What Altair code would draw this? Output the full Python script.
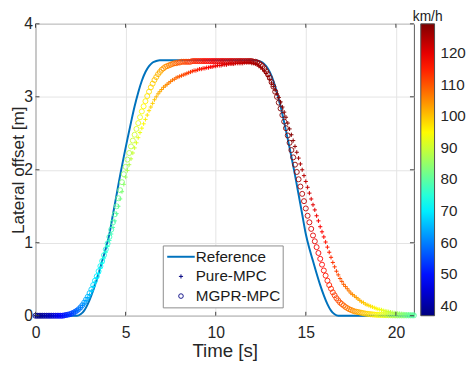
import altair as alt
import pandas as pd

FONT = "Liberation Sans"
TIME_STEP = 0.1

PURE_MPC = [
    0, 0, 0, 0, 0, 0, 0, 0, 0, 0,
    0, 0, 0, 0, 0, 0, 0.005, 0.01, 0.015, 0.02,
    0.03, 0.04, 0.055, 0.07, 0.09, 0.11, 0.14, 0.17, 0.21, 0.25,
    0.29, 0.34, 0.40, 0.46, 0.52, 0.58, 0.65, 0.72, 0.79, 0.87,
    0.95, 1.03, 1.12, 1.21, 1.30, 1.40, 1.50, 1.60, 1.70, 1.80,
    1.90, 1.99, 2.07, 2.15, 2.23, 2.30, 2.37, 2.44, 2.51, 2.57,
    2.63, 2.69, 2.75, 2.81, 2.86, 2.91, 2.96, 3.00, 3.04, 3.07,
    3.10, 3.13, 3.15, 3.17, 3.19, 3.21, 3.23, 3.24, 3.26, 3.27,
    3.28, 3.29, 3.30, 3.31, 3.32, 3.33, 3.34, 3.35, 3.36, 3.36,
    3.37, 3.38, 3.38, 3.39, 3.39, 3.40, 3.40, 3.41, 3.41, 3.42,
    3.42, 3.43, 3.43, 3.43, 3.44, 3.44, 3.44, 3.45, 3.45, 3.45,
    3.45, 3.46, 3.46, 3.46, 3.46, 3.46, 3.47, 3.47, 3.47, 3.47,
    3.46, 3.46, 3.45, 3.44, 3.42, 3.40, 3.38, 3.35, 3.32, 3.28,
    3.24, 3.19, 3.14, 3.09, 3.04, 2.99, 2.93, 2.86, 2.79, 2.72,
    2.64, 2.56, 2.48, 2.40, 2.32, 2.24, 2.16, 2.08, 2.00, 1.92,
    1.84, 1.76, 1.68, 1.60, 1.52, 1.45, 1.37, 1.30, 1.22, 1.15,
    1.08, 1.01, 0.94, 0.87, 0.80, 0.73, 0.67, 0.61, 0.56, 0.51,
    0.47, 0.43, 0.40, 0.37, 0.34, 0.31, 0.29, 0.27, 0.25, 0.23,
    0.21, 0.19, 0.18, 0.16, 0.15, 0.14, 0.13, 0.12, 0.11, 0.10,
    0.09, 0.085, 0.08, 0.07, 0.065, 0.06, 0.055, 0.05, 0.045, 0.04,
    0.037, 0.034, 0.03, 0.028, 0.025, 0.023, 0.02, 0.018, 0.016, 0.015,
    0.013,
]

MGPR_MPC = [
    0, 0, 0, 0, 0, 0, 0, 0, 0, 0,
    0, 0, 0, 0, 0, 0, 0.005, 0.01, 0.015, 0.02,
    0.03, 0.04, 0.055, 0.07, 0.09, 0.115, 0.145, 0.18, 0.22, 0.26,
    0.31, 0.36, 0.42, 0.48, 0.54, 0.61, 0.68, 0.75, 0.83, 0.91,
    0.99, 1.08, 1.18, 1.28, 1.39, 1.50, 1.61, 1.72, 1.83, 1.94,
    2.04, 2.14, 2.23, 2.32, 2.40, 2.48, 2.56, 2.64, 2.72, 2.80,
    2.87, 2.94, 3.01, 3.07, 3.13, 3.18, 3.23, 3.27, 3.31, 3.34,
    3.37, 3.39, 3.41, 3.42, 3.43, 3.44, 3.45, 3.46, 3.46, 3.47,
    3.47, 3.48, 3.48, 3.48, 3.48, 3.48, 3.48, 3.49, 3.49, 3.49,
    3.49, 3.49, 3.49, 3.49, 3.49, 3.49, 3.49, 3.49, 3.49, 3.49,
    3.49, 3.49, 3.49, 3.49, 3.49, 3.49, 3.49, 3.49, 3.49, 3.49,
    3.49, 3.49, 3.49, 3.49, 3.49, 3.49, 3.49, 3.49, 3.49, 3.49,
    3.49, 3.48, 3.48, 3.47, 3.46, 3.44, 3.42, 3.39, 3.35, 3.31,
    3.26, 3.20, 3.14, 3.07, 3.00, 2.92, 2.84, 2.75, 2.66, 2.57,
    2.47, 2.37, 2.27, 2.17, 2.07, 1.97, 1.87, 1.77, 1.67, 1.57,
    1.47, 1.37, 1.28, 1.19, 1.10, 1.02, 0.94, 0.86, 0.78, 0.70,
    0.62, 0.55, 0.48, 0.42, 0.37, 0.32, 0.28, 0.24, 0.21, 0.18,
    0.16, 0.14, 0.12, 0.105, 0.09, 0.08, 0.07, 0.06, 0.055, 0.05,
    0.045, 0.04, 0.035, 0.03, 0.027, 0.024, 0.021, 0.018, 0.016, 0.014,
    0.012, 0.011, 0.01, 0.009, 0.008, 0.008, 0.007, 0.007, 0.006, 0.006,
    0.005, 0.005, 0.005, 0.005, 0.005, 0.005, 0.005, 0.005, 0.005, 0.005,
    0.005,
]

SPEED_KMH = [
    37, 37.5, 38, 38.5, 39.5, 40, 40.5, 41.5, 42, 43,
    44, 45, 46, 47, 48, 49, 50, 51, 52, 53,
    54, 55, 56.5, 57.5, 59, 60, 61, 62.5, 63.5, 65,
    66, 67, 68, 69, 70, 71, 72, 73, 74, 75,
    76, 77, 78, 79, 80, 81, 82, 83, 84, 85,
    86, 87, 88, 89, 90, 90.5, 91.5, 92.5, 93, 94,
    95, 96, 97, 97.5, 98.5, 99, 100, 101, 101.5, 102,
    103, 104, 104.5, 105, 106, 106.5, 107, 108, 108.5, 109,
    110, 110.5, 111, 111.5, 112, 112.5, 113, 113.5, 114, 114.5,
    115, 115.5, 116, 116, 116.5, 117, 117.5, 118, 118, 118.5,
    119, 119.5, 119.5, 120, 120.5, 120.5, 121, 121, 121.5, 121.5,
    122, 122.5, 122.5, 123, 123, 123.5, 123.5, 124, 124, 124.5,
    125, 125.5, 125.5, 126, 126.5, 126.5, 127, 127, 127.5, 127.5,
    128, 128, 128.5, 128.5, 128.5, 129, 129, 129, 129, 129,
    129, 129, 128.5, 128, 127.5, 127, 126, 125.5, 125, 124,
    123, 122.5, 122, 121, 120.5, 120, 119, 118.5, 118, 117.5,
    117, 116, 115.5, 115, 114, 113, 112.5, 112, 111, 110.5,
    110, 109, 108, 107.5, 106.5, 106, 105, 104, 103.5, 102.5,
    102, 101, 100, 99.5, 99, 98, 97.5, 97, 96, 95.5,
    95, 94, 93, 92.5, 91.5, 91, 90, 89, 88.5, 87.5,
    87, 86, 85.5, 84.5, 84, 83, 82.5, 81.5, 81, 80.5,
    80,
]

REF_T = [0, 2.3, 2.5, 2.7, 2.9, 3.1, 3.3, 3.5, 3.7, 3.9, 4.1, 4.3, 4.5, 4.7,
         4.9, 5.1, 5.3, 5.5, 5.7, 5.9, 6.1, 6.3, 6.5, 6.7, 6.9,
         12.2, 12.4, 12.6, 12.8, 13.0, 13.2, 13.4, 13.6, 13.8, 14.0, 14.2,
         14.4, 14.6, 14.8, 15.0, 15.2, 15.4, 15.6, 15.8, 16.0, 16.2, 16.4,
         16.6, 16.8, 21]
REF_Y = [0, 0, 0.02, 0.07, 0.16, 0.28, 0.42, 0.58, 0.75, 0.92, 1.12, 1.39,
         1.66, 1.93, 2.18, 2.42, 2.65, 2.87, 3.06, 3.22, 3.34, 3.42, 3.47,
         3.49, 3.50,
         3.50, 3.49, 3.47, 3.42, 3.34, 3.22, 3.06, 2.87, 2.65, 2.42, 2.18,
         1.93, 1.66, 1.39, 1.12, 0.92, 0.75, 0.58, 0.42, 0.28, 0.16, 0.07,
         0.02, 0.00, 0]

X_TICKS = [0, 5, 10, 15, 20]
Y_TICKS = [0, 1, 2, 3, 4]
CBAR_TICKS = [40, 50, 60, 70, 80, 90, 100, 110, 120]
CBAR_STOPS = [36.9, 48.45, 60.0, 71.55, 83.1, 94.65, 106.2, 117.75, 129.3]
JET = ["#00007F", "#0000FF", "#007FFF", "#00FFFF", "#7FFF7F",
       "#FFFF00", "#FF7F00", "#FF0000", "#7F0000"]
LEGEND_LABELS = ["Reference", "Pure-MPC", "MGPR-MPC"]

PLUS = "M-1,0L1,0M0,-1L0,1"
W, H = 385, 297

n = len(SPEED_KMH)
assert len(PURE_MPC) == n and len(MGPR_MPC) == n
times = [round(i * TIME_STEP, 1) for i in range(n)]
df = pd.DataFrame({"t": times, "pure": PURE_MPC, "mgpr": MGPR_MPC,
                   "speed": SPEED_KMH})
ref_df = pd.DataFrame({"t": REF_T, "y": REF_Y})
xt_df = pd.DataFrame({"v": X_TICKS})
yt_df = pd.DataFrame({"v": Y_TICKS})
leg_df = pd.DataFrame({"label": LEGEND_LABELS})

xscale = alt.Scale(domain=[0, 21], nice=False, zero=False)
yscale = alt.Scale(domain=[0, 4], nice=False, zero=False)
xaxis = alt.Axis(values=X_TICKS, labelFlush=False, ticks=False, domain=False,
                 grid=True, labelPadding=9, titleY=41,
                 titleBaseline="alphabetic")
yaxis = alt.Axis(values=Y_TICKS, labelFlush=False, ticks=False, domain=False,
                 grid=True, labelPadding=3, titleX=-12, titleY=H / 2,
                 titleBaseline="alphabetic", titleAngle=270,
                 titleFontSize=17.5)


def X(field):
    return alt.X(field, type="quantitative", scale=xscale, axis=xaxis,
                 title="Time [s]")


def Y(field):
    return alt.Y(field, type="quantitative", scale=yscale, axis=yaxis,
                 title="Lateral offset [m]")


cscale = alt.Scale(domain=CBAR_STOPS, range=JET, interpolate="rgb")
cleg = alt.Legend(title=None, orient="none", legendX=392, legendY=0,
                  direction="vertical", gradientLength=H, gradientThickness=14,
                  values=CBAR_TICKS, labelFontSize=15.5, labelFont=FONT,
                  labelColor="#262626", labelOffset=6, padding=0,
                  gradientStrokeColor="#4d4d4d", gradientStrokeWidth=1,
                  labelOverlap=False)
color = alt.Color("speed:Q", scale=cscale, legend=cleg)

ref = alt.Chart(ref_df).mark_line(color="#0072BD", strokeWidth=2,
                                  interpolate="monotone").encode(
    x=X("t"), y=Y("y"))

pure = alt.Chart(df).mark_point(shape=PLUS, filled=False, size=18,
                                strokeWidth=1, opacity=1).encode(
    x=X("t"), y=Y("pure"), color=color)

mgpr = alt.Chart(df).mark_point(shape="circle", filled=False, size=26,
                                strokeWidth=0.9, opacity=1).encode(
    x=X("t"), y=Y("mgpr"), color=color)

TICK_C = "#404040"
xt_bot = alt.Chart(xt_df).mark_rule(color=TICK_C, strokeWidth=1).encode(
    x=X("v"), y=alt.value(H), y2=alt.value(H - 4))
xt_top = alt.Chart(xt_df).mark_rule(color=TICK_C, strokeWidth=1).encode(
    x=X("v"), y=alt.value(0), y2=alt.value(4))
yt_left = alt.Chart(yt_df).mark_rule(color=TICK_C, strokeWidth=1).encode(
    y=Y("v"), x=alt.value(0), x2=alt.value(4))
yt_right = alt.Chart(yt_df).mark_rule(color=TICK_C, strokeWidth=1).encode(
    y=Y("v"), x=alt.value(W), x2=alt.value(W - 4))


def one(label):
    return alt.Chart(leg_df).transform_filter(alt.datum.label == label)


box = one(LEGEND_LABELS[0]).mark_rect(fill="white", stroke="#8c8c8c",
                                      strokeWidth=1).encode(
    x=alt.value(130), x2=alt.value(252), y=alt.value(226), y2=alt.value(289))
leg_line = one(LEGEND_LABELS[0]).mark_rule(color="#0072BD",
                                           strokeWidth=2).encode(
    x=alt.value(134), x2=alt.value(162), y=alt.value(237))
leg_plus = one(LEGEND_LABELS[1]).mark_point(shape=PLUS, filled=False, size=18,
                                            strokeWidth=1, color="#000080",
                                            opacity=1).encode(
    x=alt.value(148), y=alt.value(257))
leg_circ = one(LEGEND_LABELS[2]).mark_point(shape="circle", filled=False,
                                            size=22, strokeWidth=0.9,
                                            color="#000080",
                                            opacity=1).encode(
    x=alt.value(148), y=alt.value(277))
texts = []
for lab, yy in zip(LEGEND_LABELS, [237, 257, 277]):
    texts.append(one(lab).mark_text(align="left", baseline="middle",
                                    fontSize=15.5, font=FONT,
                                    color="#1a1a1a").encode(
        text="label:N", x=alt.value(163), y=alt.value(yy)))

kmh = one(LEGEND_LABELS[0]).mark_text(text="km/h", align="center",
                                      baseline="alphabetic", fontSize=14,
                                      font=FONT, color="#1a1a1a").encode(
    x=alt.value(399), y=alt.value(-3))

chart = alt.layer(
    ref, pure, mgpr, xt_bot, xt_top, yt_left, yt_right,
    box, leg_line, leg_plus, leg_circ, *texts, kmh,
).properties(
    width=W, height=H,
    autosize=alt.AutoSizeParams(type="none"),
    padding={"left": 28, "top": 13, "right": 53, "bottom": 46},
).configure_view(
    stroke="#5a5a5a", strokeWidth=1
).configure_axis(
    labelFont=FONT, titleFont=FONT, labelFontSize=16, titleFontSize=19,
    labelColor="#262626", titleColor="#262626", titleFontWeight="normal",
    gridColor="#e3e3e3", gridWidth=1,
)

chart.save("out.html", embed_options={"renderer": "svg", "actions": False})
